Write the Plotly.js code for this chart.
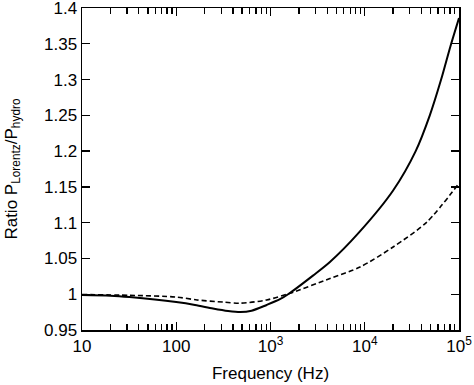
<!DOCTYPE html>
<html>
<head>
<meta charset="utf-8">
<script src="https://cdn.plot.ly/plotly-3.0.1.min.js"></script>
<style>html,body{margin:0;padding:0;background:#fff;}#chart{width:474px;height:385px;}</style>
</head>
<body>
<div id="chart"></div>
<script>
// Solid curve (Lorentz/hydro ratio, case 1)
const freqSolid = [10, 20, 32, 100, 158, 245, 355, 480, 630, 910, 1260, 1580, 2820, 4270, 8510, 20000, 34700, 49000, 64600, 81300, 100000];
const ratioSolid = [0.999, 0.998, 0.996, 0.989, 0.985, 0.980, 0.9765, 0.975, 0.977, 0.985, 0.993, 1.001, 1.026, 1.045, 1.085, 1.145, 1.2, 1.25, 1.3, 1.347, 1.386];
// Dashed curve (case 2)
const freqDashed = [10, 32, 100, 166, 316, 480, 910, 1580, 4270, 8910, 20000, 45700, 100000];
const ratioDashed = [0.9995, 0.9985, 0.996, 0.992, 0.989, 0.9875, 0.992, 1.001, 1.022, 1.038, 1.066, 1.101, 1.155];
// Axis ticks
const xTickVals = [10, 100, 1000, 10000, 100000];
const xTickText = ['10', '100', '10<sup>3</sup>', '10<sup>4</sup>', '10<sup>5</sup>'];
const yTickVals = [0.95, 1, 1.05, 1.1, 1.15, 1.2, 1.25, 1.3, 1.35, 1.4];
const yTickText = ['0.95', '1', '1.05', '1.1', '1.15', '1.2', '1.25', '1.3', '1.35', '1.4'];

const font = {family: '"Liberation Sans", Arial, sans-serif', size: 17, color: '#000'};

const traces = [
  {x: freqSolid, y: ratioSolid, mode: 'lines', type: 'scatter',
   line: {color: '#000', width: 2, shape: 'spline', smoothing: 0.8}, showlegend: false},
  {x: freqDashed, y: ratioDashed, mode: 'lines', type: 'scatter',
   line: {color: '#000', width: 1.6, dash: '5px,3px', shape: 'spline', smoothing: 0.8}, showlegend: false}
];

const tickCommon = {ticks: 'inside', ticklen: 8, tickwidth: 1.3, tickcolor: '#000',
  showgrid: false, zeroline: false};

const yRange = [0.95, 1.4];

const layout = {
  width: 474, height: 385,
  margin: {l: 82, r: 15, t: 8, b: 55},
  paper_bgcolor: '#fff', plot_bgcolor: '#fff',
  font: font,
  xaxis: Object.assign({
    type: 'log', range: [1, 5],
    tickvals: xTickVals, ticktext: xTickText,
    showline: true, linecolor: '#000', linewidth: 1.5, mirror: true,
    minor: {ticks: 'inside', ticklen: 6, tickwidth: 1.3, tickcolor: '#000', dtick: 'D1', showgrid: false},
    tickfont: font, ticklabeloverflow: 'allow',
    title: {text: 'Frequency (Hz)', font: font, standoff: 12}
  }, tickCommon),
  xaxis2: Object.assign({
    type: 'log', range: [1, 5], overlaying: 'x', side: 'top', matches: 'x',
    tickvals: xTickVals, showticklabels: false, showline: false,
    minor: {ticks: 'inside', ticklen: 6, tickwidth: 1.3, tickcolor: '#000', dtick: 'D1', showgrid: false}
  }, tickCommon),
  yaxis: Object.assign({
    range: yRange,
    tickvals: yTickVals, ticktext: yTickText,
    showline: true, linecolor: '#000', linewidth: 1.5, mirror: true,
    tickfont: font, ticklabeloverflow: 'allow',
    title: {text: 'Ratio P<sub>Lorentz</sub>/P<sub>hydro</sub>', font: font, standoff: 22}
  }, tickCommon),
  yaxis2: Object.assign({
    range: yRange, overlaying: 'y', side: 'right', matches: 'y',
    tickvals: yTickVals, showticklabels: false, showline: false
  }, tickCommon)
};

// invisible trace to activate the mirrored axes
traces.push({x: [10], y: [1], xaxis: 'x2', yaxis: 'y2', mode: 'markers',
  marker: {opacity: 0}, hoverinfo: 'skip', showlegend: false});

Plotly.newPlot('chart', traces, layout, {displayModeBar: false, staticPlot: true});
</script>
</body>
</html>
